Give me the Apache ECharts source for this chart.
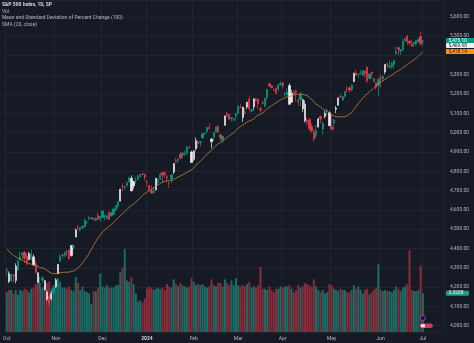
<!DOCTYPE html>
<html>
<head>
<meta charset="utf-8">
<script src="https://cdn.jsdelivr.net/npm/echarts@6/dist/echarts.min.js"></script>
<style>
  html, body { margin: 0; padding: 0; background: #161a25; }
  #chart { width: 474px; height: 343px; }
</style>
</head>
<body>
<div id="chart"></div>
<script>
// ---- S&P 500 daily bars, Oct 2023 – Jul 2024 ----
const tradingDays = [
  ['2023-10', [2,3,4,5,6,9,10,11,12,13,16,17,18,19,20,23,24,25,26,27,30,31]],
  ['2023-11', [1,2,3,6,7,8,9,10,13,14,15,16,17,20,21,22,24,27,28,29,30]],
  ['2023-12', [1,4,5,6,7,8,11,12,13,14,15,18,19,20,21,22,26,27,28,29]],
  ['2024-01', [2,3,4,5,8,9,10,11,12,16,17,18,19,22,23,24,25,26,29,30,31]],
  ['2024-02', [1,2,5,6,7,8,9,12,13,14,15,16,20,21,22,23,26,27,28,29]],
  ['2024-03', [1,4,5,6,7,8,11,12,13,14,15,18,19,20,21,22,25,26,27,28]],
  ['2024-04', [1,2,3,4,5,8,9,10,11,12,15,16,17,18,19,22,23,24,25,26,29,30]],
  ['2024-05', [1,2,3,6,7,8,9,10,13,14,15,16,17,20,21,22,23,24,28,29,30,31]],
  ['2024-06', [3,4,5,6,7,10,11,12,13,14,17,18,20,21,24,25,26,27,28]],
  ['2024-07', [1]]
];
const monthTickLabels = ['Oct', 'Nov', 'Dec', '2024', 'Feb', 'Mar', 'Apr', 'May', 'Jun', 'Jul'];

const opens = [
  4284,4270,4233,4260,4234,4289,4339,4366,4381,4360,4342,4345,4357,4321,4274,4210,4235,4233,4175,4152,4140,4171,
  4201,4269,4334,4364,4366,4384,4392,4364,4406,4459,4505,4497,4509,4512,4538,4554,4555,4554,4546,4571,4555,
  4560,4564,4557,4587,4568,4576,4601,4619,4646,4721,4715,4725,4744,4764,4724,4753,4758,4773,4786,4782,
  4745,4726,4698,4690,4704,4741,4759,4793,4792,4772,4740,4760,4797,4854,4856,4888,4886,4888,4893,4925,4900,
  4862,4917,4950,4950,4973,4996,5005,5027,4968,4976,5003,5032,4989,4963,5038,5100,5093,5074,5067,5085,
  5099,5131,5132,5108,5133,5174,5112,5135,5174,5175,5124,5154,5139,5181,5253,5243,5220,5229,5227,5248,
  5258,5204,5194,5244,5158,5211,5218,5167,5172,5171,5149,5064,5068,5032,5005,4987,5029,5085,5019,5084,5114,5103,
  5030,5050,5122,5142,5188,5169,5189,5225,5233,5222,5264,5310,5303,5305,5298,5319,5341,5281,5315,5279,5260,5244,
  5285,5278,5315,5357,5343,5342,5354,5410,5441,5424,5431,5476,5500,5474,5460,5461,5460,5473,5499,
  5471
];
const highs = [
  4301,4282,4268,4267,4324,4341,4385,4378,4386,4377,4383,4394,4370,4339,4277,4255,4259,4236,4183,4157,4178,4195,
  4246,4319,4374,4372,4386,4391,4393,4418,4421,4504,4521,4511,4521,4557,4542,4568,4560,4555,4563,4588,4570,
  4599,4574,4578,4591,4591,4610,4623,4644,4709,4739,4725,4749,4769,4779,4749,4772,4784,4785,4793,4789,
  4755,4729,4727,4722,4764,4765,4791,4799,4802,4782,4745,4781,4843,4868,4866,4903,4898,4907,4929,4931,4907,
  4906,4975,4963,4957,4999,5001,5031,5048,4970,5002,5032,5039,4993,4983,5088,5111,5097,5080,5077,5104,
  5140,5149,5134,5127,5160,5189,5124,5179,5180,5176,5136,5165,5180,5226,5261,5246,5229,5236,5249,5264,
  5263,5209,5229,5256,5222,5219,5225,5178,5211,5176,5168,5079,5077,5048,5019,5039,5077,5089,5058,5114,5124,5111,
  5096,5073,5139,5181,5200,5191,5214,5240,5238,5251,5311,5325,5305,5325,5325,5323,5342,5311,5315,5283,5261,5281,
  5302,5299,5354,5362,5375,5366,5376,5447,5442,5433,5488,5490,5506,5479,5480,5472,5483,5491,5524,
  5480
];
const lows = [
  4260,4220,4225,4225,4220,4283,4339,4345,4325,4311,4342,4338,4310,4269,4224,4189,4220,4182,4128,4103,4132,4153,
  4197,4269,4334,4347,4355,4359,4344,4358,4393,4459,4495,4488,4500,4510,4526,4546,4553,4546,4540,4547,4537,
  4558,4546,4551,4547,4566,4575,4594,4607,4644,4695,4705,4725,4744,4698,4708,4736,4758,4768,4780,4751,
  4722,4700,4683,4682,4700,4730,4756,4740,4769,4747,4714,4740,4785,4844,4842,4862,4869,4881,4887,4917,4845,
  4853,4907,4920,4928,4969,4988,4999,5016,4920,4955,5003,4999,4955,4946,5038,5081,5068,5057,5058,5062,
  5094,5128,5056,5092,5122,5117,5107,5115,5161,5124,5104,5148,5131,5171,5240,5229,5216,5203,5214,5246,
  5229,5184,5194,5146,5157,5198,5161,5138,5138,5107,5053,5039,5007,4999,4954,4970,5028,5047,4990,5074,5088,5035,
  5013,5011,5101,5142,5179,5166,5182,5209,5207,5215,5264,5296,5283,5302,5297,5286,5257,5279,5280,5263,5223,5192,
  5234,5269,5303,5335,5331,5331,5331,5404,5403,5404,5420,5471,5455,5452,5447,5446,5451,5467,5451,
  5447
];
const closes = [
  4288.39,4229.45,4263.75,4258.19,4308.50,4335.66,4358.24,4376.95,4349.61,4327.78,4373.63,4373.20,4314.60,4278.00,4224.16,4217.04,4247.68,4186.77,4137.23,4117.37,4166.82,4193.80,
  4237.86,4317.78,4358.34,4365.98,4378.38,4382.78,4347.35,4415.24,4411.55,4495.70,4502.88,4508.24,4514.02,4547.38,4538.19,4556.62,4559.34,4550.43,4554.89,4550.58,4567.80,
  4594.63,4569.78,4567.18,4549.34,4585.59,4604.37,4622.44,4643.70,4707.09,4719.55,4719.19,4740.56,4768.37,4698.35,4746.75,4754.63,4774.75,4781.58,4783.35,4769.83,
  4742.83,4704.81,4688.68,4697.24,4763.54,4756.50,4783.45,4780.24,4783.83,4765.98,4739.21,4780.94,4839.81,4850.43,4864.60,4868.55,4894.16,4890.97,4927.93,4924.97,4845.65,
  4906.19,4958.61,4942.81,4954.23,4995.06,4997.91,5026.61,5021.84,4953.17,5000.62,5029.73,5005.57,4975.51,4981.80,5087.03,5088.80,5069.53,5078.18,5069.76,5096.27,
  5137.08,5130.95,5078.65,5104.76,5157.36,5123.69,5117.94,5175.27,5165.31,5150.48,5117.09,5149.42,5178.51,5224.62,5241.53,5234.18,5218.19,5203.58,5248.49,5254.35,
  5243.77,5205.81,5211.49,5147.21,5204.34,5202.39,5209.91,5160.64,5199.06,5123.41,5061.82,5051.41,5022.21,5011.12,4967.23,5010.60,5070.55,5071.63,5048.42,5099.96,5116.17,5035.69,
  5018.39,5064.20,5127.79,5180.74,5187.70,5187.67,5214.08,5222.68,5221.42,5246.68,5308.15,5297.10,5303.27,5308.13,5321.41,5307.01,5267.84,5304.72,5306.04,5266.95,5235.48,5277.51,
  5283.40,5291.34,5354.03,5352.96,5346.99,5360.79,5375.32,5421.03,5433.74,5431.60,5473.23,5487.03,5473.17,5464.62,5447.87,5469.30,5477.90,5482.87,5460.48,
  5475.10
];
// volume in billions
const volumes = [
  3.4,3.6,3.6,3.3,3.6,3.2,3.6,3.5,3.7,3.6,3.4,3.7,3.8,4.1,4.4,3.9,3.8,4.0,4.2,4.3,3.7,4.0,
  4.3,4.6,4.3,3.8,3.8,3.7,3.9,3.6,3.5,4.7,4.2,3.6,3.9,3.5,3.4,3.3,2.4,3.5,3.5,3.8,5.0,
  3.9,3.8,4.0,3.8,3.8,3.8,4.0,4.0,5.1,5.5,7.1,4.4,4.3,4.7,4.1,3.3,2.6,2.7,2.5,2.9,
  3.7,3.9,3.8,3.6,3.7,3.8,3.7,3.8,3.6,4.1,3.9,3.8,4.5,4.1,3.9,4.2,4.0,3.9,3.8,3.9,4.6,
  4.3,4.0,4.1,4.0,4.1,3.9,3.8,3.9,4.5,4.0,3.9,4.2,4.2,3.9,4.5,4.2,4.0,4.4,4.0,4.6,
  4.0,3.9,4.0,3.9,4.1,4.3,3.8,3.9,3.8,4.0,5.6,3.7,3.7,3.6,3.9,3.6,3.4,3.7,3.7,3.9,
  3.8,3.9,3.9,4.0,3.7,3.4,3.6,4.0,3.8,3.9,4.2,4.1,4.0,3.9,4.5,3.9,3.6,3.4,3.6,3.3,3.4,4.1,
  4.0,3.7,3.6,3.5,3.7,3.6,3.6,3.4,3.4,3.6,4.0,3.7,3.9,3.6,3.3,3.6,3.7,3.2,3.4,3.6,3.8,5.8,
  3.6,3.5,3.6,3.5,3.5,3.4,3.6,3.9,3.7,3.5,3.8,3.9,4.1,7.0,3.6,3.5,3.5,3.6,5.7,
  3.322
];
// closes of the 19 sessions before the first bar (warm-up for the 20-day SMA)
const priorCloses = [
  4496.83,4465.48,4451.14,4457.49,4487.46,4461.90,4467.44,4505.10,4450.32,4453.53,
  4443.95,4402.20,4330.00,4320.06,4337.44,4273.53,4274.51,4299.70,4288.05
];
const meanStdValue = 5469.98;
const smaPeriod = 20;
const rightOffsetBars = 9;

// ---- derived structures ----
const dates = [];
const monthStart = {};
tradingDays.forEach(([ym, days], m) => {
  days.forEach((d, k) => {
    if (k === 0) monthStart[dates.length] = monthTickLabels[m];
    dates.push(ym + '-' + String(d).padStart(2, '0'));
  });
});
const categories = dates.concat(new Array(rightOffsetBars).fill(''));

const UP = '#089981', DOWN = '#f23645', BIG = '#e9e9ee';
const candleData = opens.map((o, i) => {
  const c = closes[i];
  const prev = i > 0 ? closes[i - 1] : priorCloses[priorCloses.length - 1];
  const pct = Math.abs(c / prev - 1) * 100;
  const col = pct >= 1.0 ? BIG : (c >= o ? UP : DOWN);
  return {
    value: [o, c, lows[i], highs[i]],
    itemStyle: { color: col, color0: col, borderColor: col, borderColor0: col }
  };
});
const volData = volumes.map((v, i) => ({
  value: v,
  itemStyle: { color: closes[i] >= opens[i] ? '#1b6e66' : '#8c2c3a' }
}));
const allCloses = priorCloses.concat(closes);
const sma = closes.map((_, i) => {
  const j = i + priorCloses.length;
  let s = 0;
  for (let k = j - smaPeriod + 1; k <= j; k++) s += allCloses[k];
  return +(s / smaPeriod).toFixed(2);
});

const fmt = v => v.toLocaleString('en-US', { minimumFractionDigits: 2, maximumFractionDigits: 2 });
const lastClose = closes[closes.length - 1];
const lastSma = sma[sma.length - 1];
const isMonthStart = i => monthStart[i] !== undefined;
const FONT = 'Roboto, "Liberation Sans", sans-serif';

const chart = echarts.init(document.getElementById('chart'), null, { renderer: 'canvas' });
chart.setOption({
  backgroundColor: '#161a25',
  animation: false,
  grid: { left: 0, right: 30, top: 0, bottom: 11 },
  xAxis: {
    type: 'category',
    data: categories,
    boundaryGap: true,
    axisLine: { show: false },
    axisTick: { show: false },
    axisLabel: {
      interval: (i) => isMonthStart(i),
      formatter: (v, i) => {
        const t = monthStart[i] || '';
        return t === '2024' ? '{yr|2024}' : t;
      },
      color: '#b2b5be', fontSize: 5, fontFamily: FONT, margin: 4,
      rich: { yr: { color: '#d1d4dc', fontSize: 5, fontWeight: 'bold', fontFamily: FONT } }
    },
    splitLine: { show: true, interval: (i) => isMonthStart(i), lineStyle: { color: '#20242f', width: 1 } }
  },
  yAxis: [{
    type: 'value',
    position: 'right',
    min: 3967.4, max: 5687.6,
    minInterval: 100, maxInterval: 100, splitNumber: 17,
    axisLine: { show: false },
    axisTick: { show: false },
    axisLabel: {
      showMinLabel: false, showMaxLabel: false,
      formatter: v => (v % 100 !== 0 || Math.abs(v - lastSma) < 20) ? '' : fmt(v),
      color: '#b2b5be', fontSize: 5, fontFamily: FONT, margin: 6, align: 'left'
    },
    splitLine: { show: true, lineStyle: { color: '#20242f', width: 1 } }
  }, {
    type: 'value', min: 0, max: 28.4, show: false, splitLine: { show: false }
  }],
  series: [{
    name: 'Vol', type: 'bar', yAxisIndex: 1, data: volData,
    barCategoryGap: '12%', z: 1, silent: true
  }, {
    name: 'S&P 500', type: 'candlestick', data: candleData,
    barWidth: 1.8, z: 3, silent: true,
    itemStyle: { borderWidth: 0.7 }
  }, {
    name: 'SMA (20, close)', type: 'line', data: sma, showSymbol: false, z: 4, silent: true,
    lineStyle: { color: '#c98a3a', width: 0.75 }
  }]
});

// legend block and last-value tags on the price scale
const toY = (v, axis) => chart.convertToPixel({ yAxisIndex: axis }, v);
const lastX = chart.convertToPixel({ xAxisIndex: 0 }, dates.length - 1);
const tagX = 446, tagW = 30, tagH = 5;
const tags = [
  { v: lastClose, text: fmt(lastClose), bg: '#089981', fg: '#ffffff', axis: 0 },
  { v: meanStdValue, text: fmt(meanStdValue), bg: '#f0f0f3', fg: '#131722', axis: 0 },
  { v: lastSma, text: fmt(lastSma), bg: '#ff9800', fg: '#131722', axis: 0 }
];
let prevBottom = -Infinity;
const tagEls = [];
tags.forEach(t => {
  let y = toY(t.v, t.axis) - tagH / 2 - 0.5;
  if (y < prevBottom) y = prevBottom;
  prevBottom = y + tagH;
  tagEls.push({ type: 'rect', shape: { x: tagX, y: y, width: tagW, height: tagH, r: 0.8 }, style: { fill: t.bg }, z: 20 });
  tagEls.push({ type: 'text', x: tagX + 2.5, y: y + tagH / 2, style: { text: t.text, fill: t.fg, fontSize: 4.8, fontFamily: FONT, verticalAlign: 'middle' }, z: 21 });
});
const lastVol = volumes[volumes.length - 1];
const vy = toY(lastVol, 1) - tagH / 2;
tagEls.push({ type: 'rect', shape: { x: tagX, y: vy, width: 23, height: tagH, r: 0.8 }, style: { fill: '#1f9d8b' }, z: 20 });
tagEls.push({ type: 'text', x: tagX + 2.5, y: vy + tagH / 2, style: { text: lastVol.toFixed(3) + 'B', fill: '#e8f5f2', fontSize: 4.8, fontFamily: FONT, verticalAlign: 'middle' }, z: 21 });

// event badges under the last bar
tagEls.push({ type: 'circle', shape: { cx: lastX, cy: 318, r: 2.6 }, style: { fill: '#1c1530', stroke: '#9c4dcc', lineWidth: 0.8 }, z: 20 });
tagEls.push({ type: 'rect', shape: { x: lastX - 3, y: 323.5, width: 13, height: 4.5, r: 2.2 }, style: { fill: '#d23b57' }, z: 20 });
tagEls.push({ type: 'rect', shape: { x: lastX - 2, y: 324.3, width: 4, height: 3, r: 0.5 }, style: { fill: '#f1f1f4' }, z: 21 });

const legendLines = [
  { text: 'S&P 500 Index, 1D, SP', y: 5, bold: true, color: '#d1d4dc' },
  { text: 'Vol', y: 11.8, color: '#b2b5be' },
  { text: 'Mean and Standard Deviation of Percent Change (100)', y: 18.2, color: '#b2b5be' },
  { text: 'SMA (20, close)', y: 24.4, color: '#b2b5be' }
];
legendLines.forEach(l => {
  tagEls.push({ type: 'text', x: 2, y: l.y, style: { text: l.text, fill: l.color, fontSize: 5, fontWeight: l.bold ? 'bold' : 'normal', fontFamily: FONT, verticalAlign: 'middle' }, z: 22 });
});
chart.setOption({ graphic: tagEls });
</script>
</body>
</html>
